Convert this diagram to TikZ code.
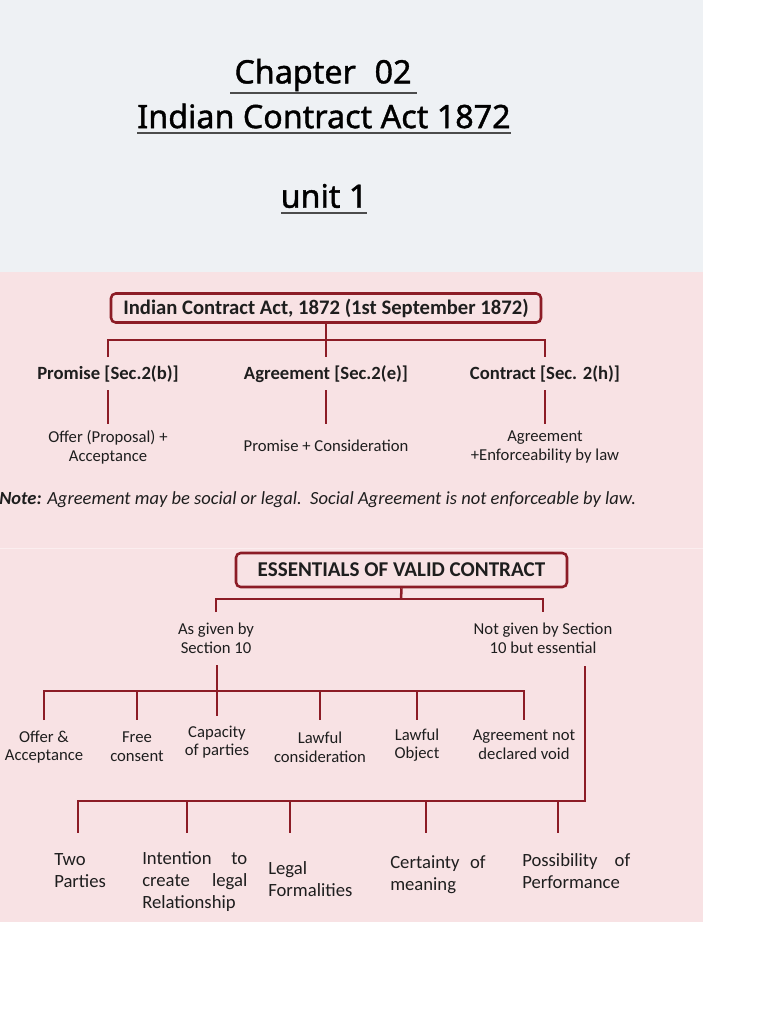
\documentclass[tikz,border=0pt]{standalone}
\usepackage{fontspec}
\setmainfont{Carlito}
\newfontfamily\titlefont[FakeBold=1.2]{Noto Sans}
\definecolor{topbg}{HTML}{EEF1F4}
\definecolor{pinkbg}{HTML}{F8E2E4}
\definecolor{lred}{HTML}{8C1C26}
\definecolor{txt}{HTML}{1E1E1E}
\begin{document}
\begin{tikzpicture}[x=0.75pt,y=-0.75pt,
  conn/.style={draw=lred,line width=1.9pt},
  hbox/.style={draw=lred,line width=1.9pt,rounded corners=3.5pt,fill=pinkbg,inner sep=0pt,
    font=\bfseries\fontsize{15.5}{17}\selectfont,text=txt},
  lvl/.style={font=\bfseries\fontsize{14}{16}\selectfont,text=txt,inner sep=0pt},
  lbl/.style={font=\fontsize{12.5}{14}\selectfont,text=txt,align=center,inner sep=0pt},
  big/.style={font=\fontsize{14}{16.5}\selectfont,text=txt,align=left,inner sep=0pt,anchor=west},
  ttl/.style={font=\titlefont\fontsize{24.2}{28}\selectfont,text=black,inner sep=0pt},
  uline/.style={draw=black!70,line width=1.2pt}]
\useasboundingbox (0,0) rectangle (768,1024);
\fill[white] (0,0) rectangle (768,1024);
\fill[topbg] (0,0) rectangle (703,272);
\fill[pinkbg] (0,272) rectangle (703,922);
\draw[white!40!pinkbg,line width=0.6pt] (0,548) -- (703,548);
% title
\node[ttl] (t1) at (323,75) {Chapter\hspace{14pt}02};
\node[ttl] (t2) at (324,116) {Indian Contract Act 1872};
\node[ttl] (t3) at (324,196) {unit 1};
\draw[uline] (230,93) -- (417,93);
\draw[uline] (137,133) -- (511,133);
\draw[uline] (281,213) -- (367,213);
% section 1
\node[hbox,minimum width=322.5pt,minimum height=21.75pt] (b1) at (326,308) {Indian Contract Act, 1872 (1st September 1872)};
\node[lvl] (p1) at (108,374) {Promise [Sec.2(b)]};
\node[lvl] (p2) at (326,374) {Agreement [Sec.2(e)]};
\node[lvl] (p3) at (545,374) {Contract [Sec. 2(h)]};
\node[lbl] (q1) at (108,447) {Offer (Proposal) +\\Acceptance};
\node[lbl] (q2) at (326,446) {Promise + Consideration};
\node[lbl] (q3) at (545,447) {Agreement\\+Enforceability by law};
\coordinate (j1) at (326,340);
\coordinate (a1) at (108,357); \coordinate (a2) at (326,357); \coordinate (a3) at (545,357);
\coordinate (c1) at (108,390); \coordinate (c2) at (326,390); \coordinate (c3) at (545,390);
\coordinate (d1) at (108,424); \coordinate (d2) at (326,424); \coordinate (d3) at (545,424);
\draw[conn] (b1.south) -- (j1);
\draw[conn] (a1) -- (a1 |- j1) -- (a3 |- j1) -- (a3);
\draw[conn] (j1) -- (a2);
\draw[conn] (c1) -- (d1);
\draw[conn] (c2) -- (d2);
\draw[conn] (c3) -- (d3);
\node[anchor=west,inner sep=0pt,text=txt,font=\itshape\fontsize{13.9}{16}\selectfont] (note) at (-1,500)
  {\textbf{Note:} Agreement may be social or legal.\ \ Social Agreement is not enforceable by law.};
% section 2
\node[hbox,font=\bfseries\fontsize{15.8}{17}\selectfont,minimum width=248.25pt,minimum height=25.5pt] (b2) at (401.5,570) {ESSENTIALS OF VALID CONTRACT};
\node[lbl] (s1) at (216,638) {As given by\\Section 10};
\node[lbl] (s2) at (543,638) {Not given by Section\\10 but essential};
\coordinate (j2) at (401,599);
\coordinate (e1) at (216,612); \coordinate (e2) at (543,612);
\draw[conn] (b2.south) -- (j2);
\draw[conn] (e1) -- (e1 |- j2) -- (e2 |- j2) -- (e2);
% as given by section 10
\coordinate (f0) at (217,665);
\coordinate (j3) at (217,691);
\node[lbl] (g1) at (44,747) {Offer \&\\Acceptance};
\node[lbl] (g2) at (137,747) {Free\\consent};
\node[lbl] (g3) at (217,742) {Capacity\\of parties};
\node[lbl] (g4) at (320,747) {Lawful\\consideration};
\node[lbl] (g5) at (417,745) {Lawful\\Object};
\node[lbl] (g6) at (524,745) {Agreement not\\declared void};
\coordinate (h1) at (44,720); \coordinate (h2) at (137,720); \coordinate (h3) at (217,716);
\coordinate (h4) at (320,720); \coordinate (h5) at (417,720); \coordinate (h6) at (524,720);
\draw[conn] (f0) -- (j3);
\draw[conn] (h1) -- (h1 |- j3) -- (h6 |- j3) -- (h6);
\foreach \k in {2,3,4,5} \draw[conn] (h\k |- j3) -- (h\k);
% not given by section 10
\coordinate (f1) at (585,666);
\coordinate (j4) at (585,801);
\node[big] (k1) at (54,871) {Two\\Parties};
\node[big] (k2) at (142,881.5) {\makebox[78.75pt][s]{Intention to}\\\makebox[78.75pt][s]{create legal}\\Relationship};
\node[big] (k3) at (268,879) {Legal\\Formalities};
\node[big] (k4) at (390,874.5) {\makebox[71.5pt][s]{Certainty of}\\meaning};
\node[big] (k5) at (522,871) {\makebox[81pt][s]{Possibility of}\\Performance};
\coordinate (m1) at (78,833); \coordinate (m2) at (187,833); \coordinate (m3) at (290,833);
\coordinate (m4) at (426,833); \coordinate (m5) at (558,833);
\draw[conn] (f1) -- (j4) -- (m1 |- j4) -- (m1);
\foreach \k in {2,3,4,5} \draw[conn] (m\k |- j4) -- (m\k);
\end{tikzpicture}
\end{document}
